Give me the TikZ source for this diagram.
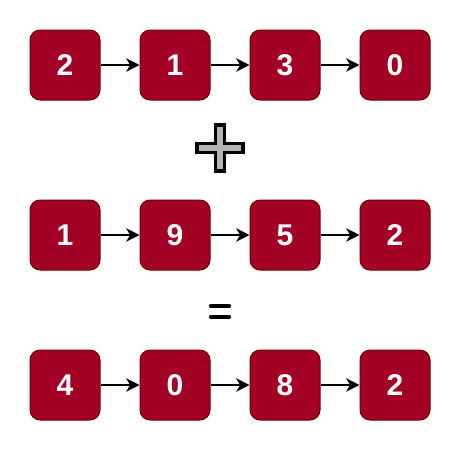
\documentclass[tikz,border=0pt]{standalone}
\usepackage{fontspec}
\setmainfont{Liberation Sans}
\usetikzlibrary{arrows.meta}
\definecolor{boxfill}{HTML}{A20025}
\definecolor{boxline}{HTML}{6F0000}
\definecolor{plusfill}{HTML}{B3B3B3}
\tikzset{
  digit/.style={draw=boxline, fill=boxfill, line width=0.75pt, rounded corners=7.5pt,
    minimum width=52.5pt, minimum height=52.5pt, inner sep=0pt, text=white,
    font=\fontsize{22.5}{26}\selectfont\bfseries},
  link/.style={line width=1.5pt, -{Stealth[length=10pt, width=10pt, inset=3pt]}},
}
\begin{document}
\begin{tikzpicture}[x=0.75pt,y=-0.75pt]
\useasboundingbox (0,0) rectangle (461,451);
\foreach \r/\y/\a/\b/\c/\d in {a/65/2/1/3/0, b/235/1/9/5/2, c/385/4/0/8/2}{
  \node[digit] (\r1) at (65,\y) {\a};
  \node[digit] (\r2) at (175,\y) {\b};
  \node[digit] (\r3) at (285,\y) {\c};
  \node[digit] (\r4) at (395,\y) {\d};
  \draw[link] (\r1) -- (\r2);
  \draw[link] (\r2) -- (\r3);
  \draw[link] (\r3) -- (\r4);
}
% plus sign
\draw[fill=plusfill, line width=2.4pt, line join=miter]
  (215.5,125) -- (224.5,125) -- (224.5,143.5) -- (243,143.5) -- (243,152.5) -- (224.5,152.5)
  -- (224.5,171) -- (215.5,171) -- (215.5,152.5) -- (197,152.5) -- (197,143.5) -- (215.5,143.5) -- cycle;
% equals sign
\draw[line width=3.3pt, line cap=round] (211,306) -- (229,306);
\draw[line width=3.3pt, line cap=round] (211,317) -- (229,317);
\end{tikzpicture}
\end{document}
